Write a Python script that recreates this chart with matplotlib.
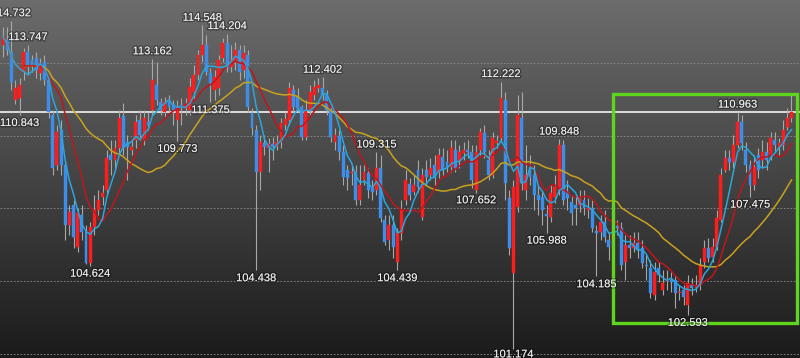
import numpy as np
import pandas as pd
import matplotlib
matplotlib.use("Agg")
import matplotlib.pyplot as plt
import matplotlib.patheffects as pe
from matplotlib.patches import Rectangle
from matplotlib.colors import LinearSegmentedColormap

# daily candles (oldest -> newest)
opens = [113.74, 113.95, 113.45, 111.47, 111.55, 112.63, 113.45, 113.12, 113.20, 112.58,
         113.04, 112.30, 110.85, 108.79, 110.23, 108.79, 106.31, 107.14, 105.40, 106.72,
         106.02, 104.74, 106.23, 106.93, 107.47, 107.76, 109.20, 108.99, 109.49, 110.81,
         109.74, 109.41, 109.82, 110.64, 109.82, 110.56, 111.06, 112.09, 111.39, 110.98,
         111.39, 111.31, 110.64, 111.26, 111.14, 111.06, 111.80, 112.50, 113.33, 113.74,
         112.58, 111.88, 111.97, 113.20, 113.82, 112.83, 113.04, 113.53, 112.71, 113.33,
         110.93, 110.23, 108.50, 109.70, 109.49, 109.65, 109.57, 109.74, 110.44, 110.64,
         111.88, 111.59, 111.18, 109.94, 111.06, 111.68, 111.97, 111.97, 111.68, 111.06,
         109.74, 109.98, 109.32, 108.58, 108.46, 108.50, 107.34, 108.17, 108.46, 107.84,
         107.76, 108.66, 106.52, 105.69, 106.31, 104.78, 105.98, 107.34, 108.00, 107.67,
         108.58, 106.64, 108.58, 108.37, 108.79, 108.50, 109.12, 108.91, 108.71, 109.41,
         108.91, 109.28, 109.41, 109.32, 107.76, 109.41, 110.11, 108.99, 108.37, 109.70,
         109.90, 111.47, 107.43, 104.33, 107.05, 110.73, 107.76, 108.71, 108.37, 107.55,
         107.47, 106.77, 106.64, 107.47, 107.76, 109.61, 107.67, 107.26, 107.14, 107.14,
         107.34, 106.93, 107.01, 106.06, 106.02, 106.44, 105.69, 105.36, 106.27, 106.19,
         104.78, 105.49, 105.36, 105.57, 105.36, 104.66, 104.54, 103.42, 104.54, 103.63,
         104.00, 104.04, 104.04, 103.50, 103.63, 103.01, 103.84, 103.71, 103.84, 104.78,
         105.36, 104.99, 105.40, 106.52, 108.58, 109.08, 108.91, 109.61, 110.56, 109.41,
         108.79, 107.96, 109.20, 108.99, 109.32, 109.20, 109.82, 109.49, 109.61, 110.36,
         110.73]
highs = [114.48, 114.50, 114.732, 112.30, 112.38, 113.62, 113.747, 113.33, 113.45, 113.20,
         113.33, 112.38, 111.06, 110.44, 110.64, 108.99, 107.14, 107.34, 107.01, 107.14,
         106.31, 106.44, 107.55, 107.76, 107.96, 109.41, 109.82, 109.82, 111.06, 111.35,
         110.03, 109.82, 110.85, 111.06, 111.06, 110.98, 113.162, 113.04, 111.55, 111.59,
         111.68, 111.47, 111.47, 111.55, 111.55, 112.38, 112.91, 113.53, 114.548, 114.15,
         112.79, 112.71, 113.33, 114.03, 114.204, 113.74, 113.86, 113.74, 113.74, 113.53,
         111.14, 110.44, 110.03, 110.03, 109.90, 109.94, 110.03, 110.73, 110.98, 112.21,
         112.09, 111.97, 111.26, 111.47, 112.09, 112.30, 112.38, 112.402, 111.88, 111.26,
         110.31, 110.23, 109.61, 108.79, 108.79, 108.79, 108.79, 108.79, 108.66, 108.17,
         109.315, 109.20, 106.72, 106.72, 106.72, 106.19, 107.34, 108.58, 108.25, 108.37,
         108.99, 108.66, 108.99, 109.08, 109.20, 109.49, 109.49, 109.41, 109.82, 109.82,
         109.61, 109.74, 109.82, 109.61, 109.61, 110.31, 110.44, 109.41, 110.15, 110.03,
         112.222, 111.80, 107.76, 108.17, 111.68, 111.80, 109.61, 109.20, 108.79, 107.96,
         107.76, 107.14, 107.96, 108.37, 109.848, 109.80, 108.17, 107.55, 107.55, 107.76,
         107.76, 107.43, 107.34, 106.31, 106.72, 106.93, 106.02, 106.72, 106.52, 106.44,
         105.90, 105.90, 106.02, 106.02, 105.69, 105.07, 104.87, 104.78, 104.78, 104.45,
         104.45, 104.37, 104.25, 103.84, 103.84, 104.25, 104.12, 104.25, 104.95, 105.69,
         105.78, 105.78, 106.93, 108.66, 109.41, 109.41, 110.03, 110.963, 110.85, 109.74,
         108.99, 109.20, 109.49, 109.82, 109.74, 110.15, 110.15, 109.90, 110.64, 111.14,
         111.68]
lows = [113.24, 113.33, 111.88, 111.31, 110.843, 112.30, 112.50, 112.63, 112.38, 112.30,
        112.09, 110.73, 108.37, 108.58, 108.37, 105.69, 105.90, 105.36, 105.20, 105.69,
        104.70, 104.624, 105.90, 106.72, 107.14, 107.55, 108.37, 108.58, 109.20, 109.20,
        108.17, 109.20, 109.49, 109.82, 109.61, 110.23, 110.85, 111.26, 110.85, 110.73,
        110.98, 110.44, 109.773, 110.44, 110.85, 110.85, 111.55, 112.30, 113.04, 112.50,
        111.375, 111.47, 111.68, 113.04, 112.63, 112.63, 112.71, 112.30, 112.38, 110.98,
        110.03, 104.438, 107.76, 109.20, 108.50, 108.99, 109.41, 109.49, 110.23, 110.44,
        110.98, 110.98, 109.82, 109.82, 110.85, 111.47, 111.80, 111.47, 110.85, 109.74,
        109.41, 108.99, 107.96, 107.76, 107.96, 107.14, 107.14, 107.96, 107.43, 107.34,
        107.55, 106.44, 105.49, 105.28, 104.95, 104.439, 105.69, 107.14, 107.34, 107.55,
        107.67, 106.52, 107.96, 108.17, 107.96, 108.25, 108.37, 108.50, 108.50, 108.50,
        108.66, 108.99, 109.08, 107.84, 107.652, 109.20, 109.08, 108.17, 108.25, 109.49,
        109.74, 107.34, 105.07, 101.174, 106.85, 107.76, 107.34, 107.96, 106.93, 106.72,
        106.31, 105.988, 106.44, 107.22, 107.55, 107.14, 106.93, 106.31, 106.31, 106.85,
        106.72, 106.60, 106.02, 104.185, 105.69, 105.61, 104.87, 105.07, 105.90, 104.45,
        104.04, 104.95, 105.20, 104.95, 104.54, 104.04, 103.30, 103.22, 103.96, 103.42,
        103.63, 103.55, 102.89, 103.22, 103.01, 102.593, 103.42, 103.55, 103.63, 104.54,
        104.78, 104.78, 105.28, 106.44, 108.50, 108.58, 108.66, 109.49, 109.41, 108.50,
        107.475, 107.76, 108.25, 108.66, 108.58, 108.99, 109.32, 109.20, 109.41, 110.23,
        110.56]
closes = [114.07, 113.53, 112.21, 111.97, 112.09, 113.45, 112.83, 112.91, 112.71, 113.00,
          112.30, 110.98, 108.66, 110.15, 108.79, 106.31, 106.85, 105.82, 106.81, 106.02,
          104.74, 106.23, 106.93, 107.34, 107.63, 109.08, 108.99, 109.49, 110.73, 109.49,
          109.53, 109.55, 110.56, 110.03, 110.73, 110.44, 112.30, 111.47, 111.06, 111.39,
          111.18, 111.06, 111.18, 111.14, 111.31, 112.01, 112.50, 113.33, 113.74, 112.63,
          112.17, 112.42, 113.12, 113.82, 112.83, 113.12, 113.53, 112.63, 113.41, 111.18,
          110.31, 108.50, 109.74, 109.53, 109.65, 109.53, 109.74, 110.52, 110.69, 111.97,
          111.18, 111.14, 109.94, 111.06, 111.80, 112.01, 112.09, 111.68, 111.06, 109.94,
          110.03, 109.32, 108.29, 108.25, 108.50, 107.34, 107.96, 108.50, 107.76, 107.67,
          108.66, 106.60, 105.61, 106.31, 105.40, 106.02, 106.93, 108.17, 107.55, 107.96,
          107.88, 108.37, 108.29, 108.66, 108.25, 109.20, 108.58, 108.66, 109.49, 108.66,
          109.32, 109.41, 109.32, 108.17, 109.32, 110.15, 109.32, 108.37, 109.90, 109.78,
          111.55, 108.05, 105.36, 107.88, 110.85, 108.05, 108.37, 108.29, 107.55, 107.34,
          106.93, 106.68, 107.63, 107.88, 109.61, 107.34, 107.43, 106.81, 107.01, 107.43,
          107.01, 107.01, 106.19, 105.98, 106.44, 105.82, 105.40, 106.39, 106.19, 104.66,
          105.49, 105.36, 105.57, 105.28, 104.74, 104.62, 103.50, 104.37, 104.25, 103.92,
          104.08, 103.96, 103.50, 103.55, 103.34, 103.92, 103.71, 103.79, 104.66, 105.36,
          104.95, 105.40, 106.60, 108.37, 109.08, 108.91, 109.61, 110.56, 109.70, 108.79,
          107.96, 108.71, 108.58, 109.32, 108.99, 109.90, 109.61, 109.70, 110.23, 110.73,
          110.98]

# candles whose high / low carries a price tag
high_tags = [2, 6, 36, 48, 54, 77, 90, 120, 134, 177]
low_tags = [4, 21, 42, 50, 61, 95, 114, 123, 131, 143, 165, 180]

grid_levels = [101, 104, 107, 110, 113]
ma_periods = [25, 10, 5]
ma_colors = ["#c9a21f", "#c0161c", "#2ba6dc"]

o = np.array(opens)
h = np.array(highs)
l = np.array(lows)
c = np.array(closes)
x = np.arange(len(c))

fig = plt.figure(figsize=(8, 3.58), dpi=100)
ax = fig.add_axes([0, 0, 1, 1])
x0, x1 = -0.72, 192.05
y0, y1 = 100.82, 115.6
ax.set_xlim(x0, x1)
ax.set_ylim(y0, y1)
ax.axis("off")

# grey background, lighter at the top
bg = LinearSegmentedColormap.from_list("bg", ["#1b1b1b", "#6c6c6c"])
ax.imshow(np.linspace(0, 1, 256).reshape(-1, 1), extent=[x0, x1, y0, y1],
          origin="lower", aspect="auto", cmap=bg, zorder=0)

for lv in grid_levels:
    ax.axhline(lv, color="#8e8e8e", lw=0.6, ls=(0, (2, 2)), zorder=1)
ax.axhline(c[-1], color="#dcdcdc", lw=1.4, zorder=1.5)

# candles: red = up, blue = down
up = c >= o
cols = np.where(up, "#ff1c1c", "#3d8ee8")
ax.vlines(x, l, h, color="#a8a8a8", lw=0.8, zorder=2)
body_lo = np.minimum(o, c)
body_h = np.maximum(np.abs(c - o), 0.04)
ax.bar(x, body_h, bottom=body_lo, width=0.7, color=cols, edgecolor=cols,
       linewidth=0.3, zorder=3)

s = pd.Series(c)
for n, col in zip(ma_periods, ma_colors):
    ax.plot(x, s.rolling(n, min_periods=1).mean(), color=col, lw=1.1, zorder=4)

shadow = [pe.withStroke(linewidth=2, foreground=(0, 0, 0, 0.35))]
tag_style = dict(textcoords="offset points", ha="center", color="#f2f2f2",
                 fontsize=8, family="Liberation Sans", path_effects=shadow, zorder=7)
for i in high_tags:
    ax.annotate(f"{h[i]:.3f}", (i, h[i]), xytext=(0, 2), va="bottom", **tag_style)
for i in low_tags:
    if l[i] - y0 < 0.45:
        # too close to the bottom edge: sit the tag on the edge
        ax.annotate(f"{l[i]:.3f}", (i, y0), xytext=(0, -1), va="bottom", **tag_style)
    else:
        ax.annotate(f"{l[i]:.3f}", (i, l[i]), xytext=(0, -2), va="top", **tag_style)

# highlighted area on the right
ax.add_patch(Rectangle((147.0, 102.27), 44.3, 9.45, fill=False,
                       edgecolor="#5fd51d", lw=2.4, zorder=6))

fig.savefig("out.png", dpi=100)
